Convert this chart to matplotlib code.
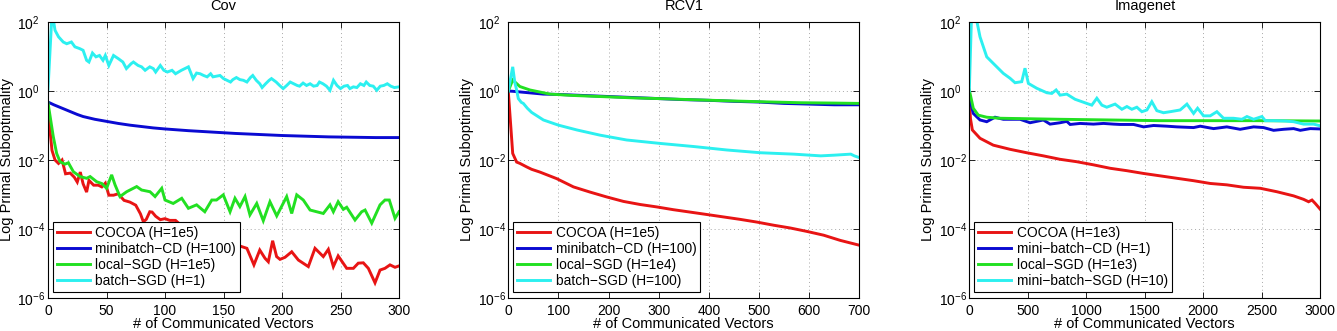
import numpy as np
import matplotlib
matplotlib.use("Agg")
import matplotlib.pyplot as plt
from matplotlib.ticker import NullLocator, FixedLocator, LogFormatterSciNotation

plt.rcParams['font.family'] = ['Liberation Sans', 'DejaVu Sans']
plt.rcParams['mathtext.default'] = 'regular'
plt.rcParams['font.size'] = 10

# ---------------- data (y stored as log10) -------------
titles = ["Cov", "RCV1", "Imagenet"]
xlims = [300, 700, 3000]
xticks = [[0, 50, 100, 150, 200, 250, 300],
          [0, 100, 200, 300, 400, 500, 600, 700],
          [0, 500, 1000, 1500, 2000, 2500, 3000]]
ytick_values = [1e-6, 1e-4, 1e-2, 1e0, 1e2]

cov_labels = ["COCOA (H=1e5)", "minibatch\u2212CD (H=100)", "local\u2212SGD (H=1e5)", "batch\u2212SGD (H=1)"]
rcv_labels = ["COCOA (H=1e5)", "minibatch\u2212CD (H=100)", "local\u2212SGD (H=1e4)", "batch\u2212SGD (H=100)"]
img_labels = ["COCOA (H=1e3)", "mini\u2212batch\u2212CD (H=1)", "local\u2212SGD (H=1e3)", "mini\u2212batch\u2212SGD (H=10)"]

# Cov
cov_cocoa_x = [0, 2, 3.4, 6, 9, 12, 15, 19, 22.5, 25, 27.6, 30, 33, 35, 39, 43, 46, 49, 52, 56, 60, 65, 70, 75,
               79, 81.5, 84, 87, 89, 92, 96, 100, 104, 109, 114, 120, 127, 134, 141, 148, 155, 160, 165.5, 170,
               176, 181, 185.5, 188.3, 192, 195.4, 198.3, 202.6, 208.3, 214, 222.5, 228.2, 235.3, 239.6, 243.9,
               248, 255.3, 261, 265.2, 269.5, 273.8, 279.5, 283.8, 288, 292.3, 296.6, 300]
cov_cocoa_log = [-0.37, -1.24, -1.72, -2.0, -2.1, -2.0, -2.4, -2.38, -2.5, -2.64, -2.35, -2.69, -2.93, -2.59,
                 -2.73, -2.73, -2.78, -2.67, -3.02, -3.02, -2.98, -3.17, -3.22, -3.31, -3.56, -3.79, -3.72, -3.5,
                 -3.51, -3.63, -3.73, -3.70, -3.75, -3.75, -3.9, -4.0, -4.1, -4.2, -4.3, -4.35, -4.4, -4.45,
                 -4.51, -4.56, -5.04, -4.61, -4.85, -4.95, -4.34, -4.80, -4.88, -4.82, -4.66, -4.90, -5.09,
                 -4.56, -4.80, -4.59, -5.09, -4.78, -5.14, -5.14, -4.99, -4.98, -5.14, -5.56, -5.19, -5.14,
                 -5.04, -5.11, -5.07]
cov_mbcd_x = [0, 5, 10, 15, 20, 25, 30, 40, 50, 60, 70, 80, 90, 100, 120, 140, 160, 180, 200, 220, 240, 260, 280, 300]
cov_mbcd_log = [-0.32, -0.40, -0.47, -0.54, -0.61, -0.68, -0.74, -0.82, -0.88, -0.94, -0.99, -1.03, -1.07, -1.10,
                -1.15, -1.19, -1.23, -1.26, -1.29, -1.31, -1.33, -1.34, -1.35, -1.35]
cov_lsgd_x = [0, 4.5, 7.4, 10.3, 14.5, 17.4, 21.7, 27.4, 33, 36, 41.6, 45.9, 50.1, 54.4, 57.3, 61.5, 67.2, 75.8,
              80, 87.2, 91.5, 97.2, 100, 107, 114.3, 120, 127, 134, 140, 144, 149.8, 155.6, 159.8, 164, 168.4,
              172.6, 178.4, 184, 189.7, 195.5, 204, 208.3, 212.6, 218.2, 224, 235.3, 241, 243.9, 248, 252.4,
              255.3, 262.4, 268.1, 271, 276.7, 283.8, 288, 291.7, 296.6, 300]
cov_lsgd_log = [-0.34, -1.32, -1.81, -2.05, -2.12, -2.08, -2.34, -2.48, -2.53, -2.48, -2.63, -2.68, -2.82, -2.43,
                -2.72, -3.06, -2.92, -2.77, -2.87, -2.92, -3.06, -2.82, -3.16, -3.26, -3.11, -3.40, -3.30, -3.50,
                -3.16, -3.16, -3.01, -3.50, -3.11, -3.35, -3.06, -3.59, -3.26, -3.76, -3.21, -3.62, -3.06, -3.55,
                -3.01, -3.16, -3.45, -3.55, -3.30, -3.50, -3.21, -3.43, -3.37, -3.74, -3.50, -3.45, -3.83, -3.30,
                -3.16, -3.16, -3.69, -3.50]
cov_bsgd_x = [0, 3.5, 6, 9, 13, 16, 20, 23, 27, 30, 33, 35, 38, 41, 44, 47, 49, 52, 56, 60, 64, 67, 71, 73, 77, 80,
              83, 87, 90, 92, 96, 99, 102, 106, 109, 114, 117, 120, 124, 127, 130, 133, 136, 139, 141, 144, 147,
              150, 153, 156, 158, 161, 164, 167, 170, 173, 175, 178, 181, 183, 186, 189, 191, 195, 198, 201, 204,
              207, 210, 213, 215, 218, 221, 224, 227, 230, 232, 235, 238, 241, 244, 247, 250, 253, 256, 258, 261,
              264, 267, 270, 272, 275, 278, 281, 284, 287, 290, 293, 296, 300]
cov_bsgd_log = [0.05, 2.3, 1.76, 1.57, 1.42, 1.37, 1.42, 1.28, 1.23, 1.18, 0.89, 0.84, 1.10, 0.99, 1.03, 0.89,
                1.03, 0.74, 1.03, 0.94, 0.84, 0.65, 0.79, 0.84, 0.74, 0.70, 0.60, 0.70, 0.65, 0.55, 0.74, 0.60,
                0.55, 0.60, 0.50, 0.60, 0.65, 0.70, 0.36, 0.52, 0.50, 0.45, 0.41, 0.50, 0.41, 0.43, 0.45, 0.36,
                0.31, 0.26, 0.33, 0.39, 0.33, 0.31, 0.26, 0.39, 0.45, 0.31, 0.21, 0.10, 0.21, 0.31, 0.36, 0.26,
                0.16, 0.07, 0.16, 0.26, 0.21, 0.16, 0.14, 0.23, 0.16, 0.21, 0.14, 0.16, 0.26, 0.21, 0.14, 0.02,
                0.31, 0.16, 0.07, 0.14, 0.16, 0.07, 0.12, 0.10, 0.21, 0.16, 0.26, 0.16, 0.14, 0.02, 0.14, 0.16,
                0.21, 0.14, 0.10, 0.12]

# RCV1
rcv_cocoa_x = [0, 8.8, 16.6, 23.4, 36.6, 46.5, 63, 96.5, 130, 163, 196, 229.5, 263, 296, 329, 362.6, 396, 429,
               462, 496, 529, 562, 595.5, 629, 662, 700]
rcv_cocoa_log = [-0.02, -1.81, -2.06, -2.10, -2.20, -2.27, -2.35, -2.54, -2.78, -2.93, -3.07, -3.20, -3.29,
                 -3.36, -3.44, -3.51, -3.58, -3.65, -3.72, -3.80, -3.89, -3.97, -4.07, -4.18, -4.33, -4.47]
rcv_mbcd_x = [0, 10, 40, 70, 100, 150, 200, 250, 300, 350, 400, 450, 500, 550, 600, 650, 700]
rcv_mbcd_log = [0.0, -0.01, -0.05, -0.09, -0.10, -0.13, -0.16, -0.19, -0.22, -0.25, -0.27, -0.30, -0.32, -0.36,
                -0.38, -0.40, -0.40]
rcv_lsgd_x = [0, 8.8, 23, 43, 83, 130, 183, 250, 300, 383, 450, 500, 583, 650, 700]
rcv_lsgd_log = [0.0, 0.32, 0.13, 0.03, -0.09, -0.13, -0.16, -0.20, -0.22, -0.26, -0.29, -0.31, -0.34, -0.35, -0.36]
rcv_bsgd_x = [0, 8.8, 13, 16.6, 20, 26, 30, 38, 46.5, 70, 100, 137, 183, 236, 303, 370, 436, 503, 569, 623, 650,
              683, 690, 700]
rcv_bsgd_log = [0.0, 0.70, 0.25, 0.03, -0.22, -0.33, -0.36, -0.50, -0.62, -0.84, -0.99, -1.13, -1.28, -1.42,
                -1.52, -1.61, -1.71, -1.79, -1.83, -1.88, -1.86, -1.83, -1.88, -1.93]

# Imagenet
img_cocoa_x = [0, 10, 26, 91.5, 205, 348, 491, 633, 776, 919, 1061, 1204, 1347, 1489, 1632, 1774, 1917, 2059,
               2201, 2344, 2487, 2629, 2772, 2857, 2900, 2929, 2957, 3000]
img_cocoa_log = [-0.26, -0.8, -1.13, -1.37, -1.57, -1.69, -1.79, -1.88, -1.98, -2.05, -2.14, -2.24, -2.31, -2.39,
                 -2.46, -2.53, -2.60, -2.68, -2.72, -2.79, -2.82, -2.92, -3.04, -3.14, -3.21, -3.16, -3.26, -3.43]
img_mbcd_x = [0, 34, 91.5, 149, 220, 291, 434, 519, 605, 633, 690, 776, 833, 862, 947, 1061, 1147, 1232, 1290,
              1404, 1490, 1575, 1689, 1775, 1917, 1974, 2088, 2201, 2315, 2430, 2515, 2601, 2686, 2772, 2829,
              2914, 3000]
img_mbcd_log = [-0.17, -0.65, -0.84, -0.89, -0.76, -0.82, -0.82, -0.92, -0.86, -0.84, -0.96, -0.92, -0.88, -0.97,
                -0.94, -0.96, -0.94, -0.96, -0.97, -0.97, -1.04, -1.00, -1.02, -1.04, -1.06, -1.02, -1.09, -1.04,
                -1.11, -1.04, -1.06, -1.14, -1.11, -1.09, -1.14, -1.09, -1.10]
img_lsgd_x = [0, 34, 77, 149, 262, 776, 1632, 2488, 3000]
img_lsgd_log = [0.03, -0.50, -0.70, -0.76, -0.79, -0.82, -0.86, -0.86, -0.87]
img_bsgd_x = [0, 20, 40, 60, 91.5, 149, 205, 291, 348, 391, 448, 476, 505, 576, 662, 705, 742, 776, 833, 904,
              1004, 1047, 1090, 1133, 1175, 1246, 1304, 1347, 1389, 1432, 1475, 1518, 1560, 1603, 1660, 1717,
              1802, 1860, 1917, 1951, 2002, 2059, 2116, 2173, 2258, 2330, 2373, 2430, 2501, 2530, 2600, 2700,
              2772, 2857, 2943, 3000]
img_bsgd_log = [0.0, 2.3, 2.4, 2.1, 1.57, 0.99, 0.80, 0.51, 0.37, 0.24, 0.27, 0.66, 0.22, 0.08, -0.05, -0.07,
                0.03, -0.12, -0.09, -0.24, -0.36, -0.41, -0.21, -0.41, -0.47, -0.38, -0.53, -0.45, -0.53, -0.47,
                -0.60, -0.55, -0.31, -0.57, -0.63, -0.60, -0.55, -0.38, -0.65, -0.50, -0.72, -0.72, -0.60, -0.79,
                -0.79, -0.82, -0.74, -0.82, -0.74, -0.86, -0.86, -0.87, -0.89, -0.96, -0.96, -1.01]

panels = [
    (cov_labels, [(cov_cocoa_x, cov_cocoa_log), (cov_mbcd_x, cov_mbcd_log),
                  (cov_lsgd_x, cov_lsgd_log), (cov_bsgd_x, cov_bsgd_log)]),
    (rcv_labels, [(rcv_cocoa_x, rcv_cocoa_log), (rcv_mbcd_x, rcv_mbcd_log),
                  (rcv_lsgd_x, rcv_lsgd_log), (rcv_bsgd_x, rcv_bsgd_log)]),
    (img_labels, [(img_cocoa_x, img_cocoa_log), (img_mbcd_x, img_mbcd_log),
                  (img_lsgd_x, img_lsgd_log), (img_bsgd_x, img_bsgd_log)]),
]

colors = ['#e81414', '#0a0ad2', '#22e022', '#2cf0f0']

# ---------------- layout ----------------
W, H = 1337, 331
fig = plt.figure(figsize=(W / 100, H / 100), dpi=100)
lefts = [48, 508.3, 969.3]
ax_w = 351
top, bottom = 22, 298
ax_h = bottom - top

for i, (labels, series) in enumerate(panels):
    ax = fig.add_axes([lefts[i] / W, (H - bottom) / H, ax_w / W, ax_h / H])
    for (x, lg), lab, c in zip(series, labels, colors):
        ax.plot(x, 10.0 ** np.array(lg), color=c, lw=2.1, label=lab, solid_joinstyle='miter')
    ax.set_yscale('log')
    ax.set_ylim(1e-6, 1e2)
    ax.set_xlim(0, xlims[i])
    ax.set_xticks(xticks[i])
    ax.yaxis.set_major_locator(FixedLocator(ytick_values))
    ax.yaxis.set_major_formatter(LogFormatterSciNotation())
    ax.yaxis.set_minor_locator(NullLocator())
    ax.tick_params(direction='in', top=True, right=True, length=4, width=0.6, labelsize=10, pad=4.5)
    # MATLAB-style: the "10" base of every y label starts at the same x
    ax.tick_params(axis='y', pad=22)
    for lbl in ax.get_yticklabels():
        lbl.set_horizontalalignment('left')
    ax.grid(True, which='major', linestyle=(0, (1, 3)), color='#a8a8a8', linewidth=0.7)
    for s in ax.spines.values():
        s.set_linewidth(0.8)
        s.set_color('black')
    ax.set_title(titles[i], fontsize=10.5, pad=8.5)
    ax.set_xlabel('# of Communicated Vectors', fontsize=10.5)
    ax.set_ylabel('Log Primal Suboptimality', fontsize=10.5)
    ax.xaxis.set_label_coords(0.5, -(317.5 - bottom) / ax_h)
    ax.yaxis.set_label_coords(-(48 - 14) / ax_w, 0.5)
    leg = ax.legend(loc='lower left', bbox_to_anchor=(5 / ax_w, 6 / ax_h), borderaxespad=0,
                    fancybox=False, framealpha=1, edgecolor='black', fontsize=9.9,
                    handlelength=2.4, handletextpad=0.37, labelspacing=0.15, borderpad=0.3)
    leg.get_frame().set_linewidth(0.8)

fig.savefig('out.png', dpi=100)
